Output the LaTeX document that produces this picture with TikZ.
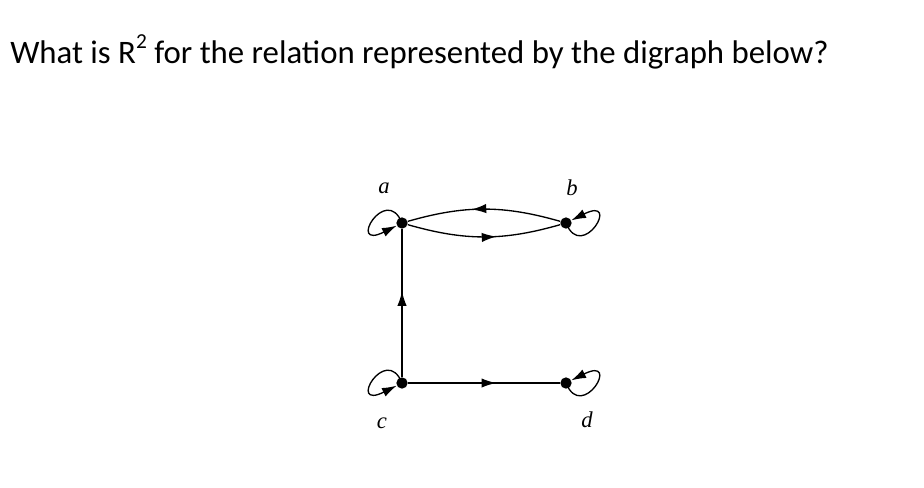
\documentclass[tikz,border=0pt]{standalone}
\usepackage{fontspec}
\setmainfont{Carlito}
\newfontfamily\lblfont{Liberation Serif}
\usetikzlibrary{arrows.meta,decorations.markings}
\begin{document}
\begin{tikzpicture}[x=0.75pt,y=-0.75pt,
  vtx/.style={circle,fill=black,inner sep=0pt,minimum size=8.5pt},
  lbl/.style={font=\lblfont\itshape\fontsize{17}{17}\selectfont},
  edge/.style={line width=1pt},
  midarrow/.style={postaction={decorate},decoration={markings,mark=at position 0.58 with {\arrow{Latex[length=11pt,width=7pt]}}}},
  looptip/.style={-{Latex[length=11pt,width=7pt]}}]
\useasboundingbox (0,0) rectangle (924,487);
\node[anchor=base west,font=\fontsize{24.6}{28}\selectfont,inner sep=0pt] (title) at (10,63) {What is R{\raisebox{0.45em}{\fontsize{16}{16}\selectfont 2}} for the relation represented by the digraph below?};
\node[vtx] (a) at (402,223) {};
\node[vtx] (b) at (566,223) {};
\node[vtx] (c) at (402,383) {};
\node[vtx] (d) at (566,383) {};
\node[lbl] (la) at (384,188) {a};
\node[lbl] (lb) at (572,188) {b};
\node[lbl] (lc) at (382,423) {c};
\node[lbl] (ld) at (587,420) {d};
\draw[edge,midarrow] (b) to[bend right=16] (a);
\draw[edge,midarrow] (a) to[bend right=16] (b);
\draw[edge,midarrow] (c) -- (a);
\draw[edge,midarrow] (c) -- (d);
\draw[edge,looptip] (a.center) .. controls +(-16,-40) and +(-56,28) .. (a);
\draw[edge,looptip] (c.center) .. controls +(-16,-40) and +(-56,28) .. (c);
\draw[edge,looptip] (b.center) .. controls +(16,40) and +(56,-28) .. (b);
\draw[edge,looptip] (d.center) .. controls +(16,40) and +(56,-28) .. (d);
\end{tikzpicture}
\end{document}
